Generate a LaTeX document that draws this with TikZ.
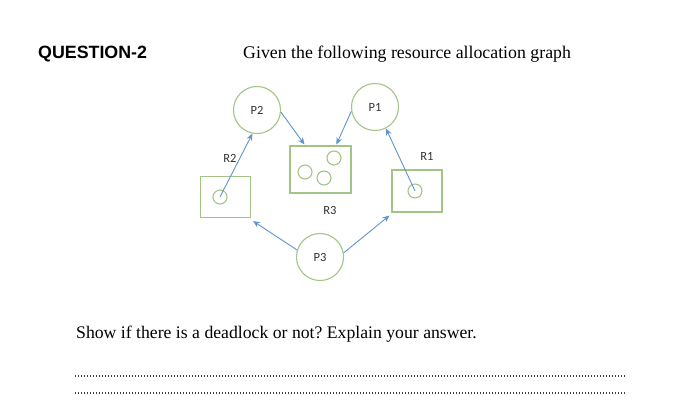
\documentclass[tikz,border=0pt]{standalone}
\usepackage{fontspec}
\setmainfont{Liberation Serif}
\newfontfamily\arialf{Liberation Sans}
\newfontfamily\calibf{Carlito}
\usetikzlibrary{arrows.meta,calc}
\definecolor{boxgreen}{RGB}{163,196,135}
\definecolor{arrblue}{RGB}{95,150,205}
\definecolor{lbl}{RGB}{50,50,50}
\frenchspacing
\begin{document}
\begin{tikzpicture}[x=1pt,y=-1pt,
  proc/.style={circle,draw=boxgreen,line width=1.1pt,minimum size=47pt,inner sep=0pt,font=\calibf\fontsize{12.5}{14}\selectfont,text=lbl},
  res/.style={rectangle,draw=boxgreen,line width=1.1pt,inner sep=0pt},
  inst/.style={circle,draw=boxgreen,line width=1.1pt,minimum size=14pt,inner sep=0pt},
  rlabel/.style={font=\calibf\fontsize{12.5}{14}\selectfont,text=lbl},
  arr/.style={draw=arrblue,line width=0.9pt,-{Stealth[length=7pt,width=6pt]}},
  dotline/.style={draw=black!75,line width=1.1pt,dash pattern=on 1pt off 2pt}]
\useasboundingbox[fill=white] (0,0) rectangle (700,408);
% texts
\node[anchor=base west,inner sep=0pt,font=\arialf\bfseries\fontsize{17.8}{20}\selectfont] (q) at (38,58) {QUESTION-2};
\node[anchor=base west,inner sep=0pt,font=\fontsize{17.8}{20}\selectfont] (given) at (243,58) {Given the following resource allocation graph};
\node[anchor=base west,inner sep=0pt,font=\fontsize{17.7}{20}\selectfont] (show) at (76,338) {Show if there is a deadlock or not? Explain your answer.};
% processes
\node[proc] (P2) at (257,110) {P2};
\node[proc] (P1) at (375,107) {P1};
\node[proc] (P3) at (320,257) {P3};
% resources
\node[res,minimum width=61pt,minimum height=47pt] (R3) at (320.5,169.5) {};
\node[res,minimum width=50pt,minimum height=41pt] (R2) at (225.5,197) {};
\node[res,minimum width=50pt,minimum height=42pt] (R1) at (417,191) {};
\node[inst] (r3a) at (305,172) {};
\node[inst] (r3b) at (334,158) {};
\node[inst] (r3c) at (324,178) {};
\node[inst] (r2a) at (220,197) {};
\node[inst] (r1a) at (415,191) {};
\node[rlabel] (R3l) at (330,210) {R3};
\node[rlabel] (R2l) at (230,158) {R2};
\node[rlabel] (R1l) at (427,156) {R1};
% edges
\draw[arr] (r2a.center) -- (P2.259);
\draw[arr] (P2.355) -- ($(R3.north west)+(15,-1)$);
\draw[arr] (P1.190) -- ($(R3.north west)+(47,-1)$);
\draw[arr] (r1a.center) -- (P1.297);
\draw[arr] (P3.163) -- ($(R2.south east)+(2,3)$);
\draw[arr] (P3.10) -- ($(R1.south west)+(-2,3)$);
% answer lines
\coordinate (l1a) at (75,376);
\coordinate (l1b) at (625,376);
\coordinate (l2a) at (75,393);
\coordinate (l2b) at (625,393);
\draw[dotline] (l1a) -- (l1b);
\draw[dotline] (l2a) -- (l2b);
\end{tikzpicture}
\end{document}
